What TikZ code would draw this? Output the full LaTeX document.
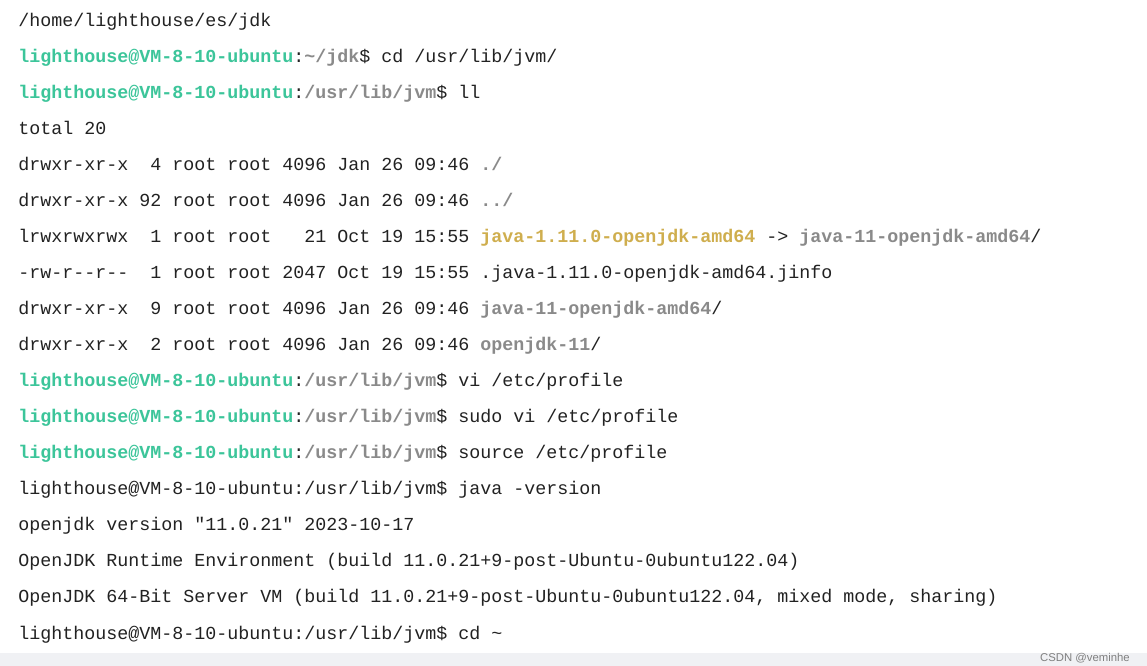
\documentclass[tikz,border=0pt]{standalone}
\usepackage{fontspec}
\setmonofont{Liberation Mono}
\setsansfont{Liberation Sans}
\definecolor{tgreen}{HTML}{3CC59A}
\definecolor{tgray}{HTML}{8A8A8A}
\definecolor{tyel}{HTML}{CFAE4E}
\definecolor{ttext}{HTML}{222222}
\definecolor{strip}{HTML}{F0F1F4}
\newcommand{\gp}[1]{\textcolor{tgreen}{\bfseries #1}}
\newcommand{\gy}[1]{\textcolor{tgray}{\bfseries #1}}
\newcommand{\yl}[1]{\textcolor{tyel}{\bfseries #1}}
\newcommand{\pr}{\gp{lighthouse@VM-8-10-ubuntu}:}
\tikzset{ln/.style={anchor=base west,inner sep=0pt,font=\ttfamily\fontsize{13.75pt}{15pt}\selectfont,text=ttext}}
\begin{document}
\begin{tikzpicture}[x=0.75pt,y=-0.75pt]
\useasboundingbox (0,0) rectangle (1147,666);
\fill[white] (0,0) rectangle (1147,666);
\fill[strip] (0,653) rectangle (1147,666);
\node[ln] (l1) at (18,27) {/home/lighthouse/es/jdk};
\node[ln] (l2) at (18,63) {\pr\gy{\textasciitilde/jdk}\$ cd /usr/lib/jvm/};
\node[ln] (l3) at (18,99) {\pr\gy{/usr/lib/jvm}\$ ll};
\node[ln] (l4) at (18,135) {total 20};
\node[ln] (l5) at (18,171) {drwxr-xr-x\ \ 4 root root 4096 Jan 26 09:46 \gy{./}};
\node[ln] (l6) at (18,207) {drwxr-xr-x 92 root root 4096 Jan 26 09:46 \gy{../}};
\node[ln] (l7) at (18,243) {lrwxrwxrwx\ \ 1 root root\ \ \ 21 Oct 19 15:55 \yl{java-1.11.0-openjdk-amd64} -> \gy{java-11-openjdk-amd64}/};
\node[ln] (l8) at (18,279) {-rw-r--r--\ \ 1 root root 2047 Oct 19 15:55 .java-1.11.0-openjdk-amd64.jinfo};
\node[ln] (l9) at (18,315) {drwxr-xr-x\ \ 9 root root 4096 Jan 26 09:46 \gy{java-11-openjdk-amd64}/};
\node[ln] (l10) at (18,351) {drwxr-xr-x\ \ 2 root root 4096 Jan 26 09:46 \gy{openjdk-11}/};
\node[ln] (l11) at (18,387) {\pr\gy{/usr/lib/jvm}\$ vi /etc/profile};
\node[ln] (l12) at (18,423) {\pr\gy{/usr/lib/jvm}\$ sudo vi /etc/profile};
\node[ln] (l13) at (18,459) {\pr\gy{/usr/lib/jvm}\$ source /etc/profile};
\node[ln] (l14) at (18,495) {lighthouse@VM-8-10-ubuntu:/usr/lib/jvm\$ java -version};
\node[ln] (l15) at (18,531) {openjdk version "11.0.21" 2023-10-17};
\node[ln] (l16) at (18,567) {OpenJDK Runtime Environment (build 11.0.21+9-post-Ubuntu-0ubuntu122.04)};
\node[ln] (l17) at (18,603) {OpenJDK 64-Bit Server VM (build 11.0.21+9-post-Ubuntu-0ubuntu122.04, mixed mode, sharing)};
\node[ln] (l18) at (18,639) {lighthouse@VM-8-10-ubuntu:/usr/lib/jvm\$ cd \textasciitilde};
\node[anchor=base east,inner sep=0pt,font=\sffamily\fontsize{8.5pt}{9pt}\selectfont,text=gray] (wm) at (1130,662) {CSDN @veminhe};
\end{tikzpicture}
\end{document}
